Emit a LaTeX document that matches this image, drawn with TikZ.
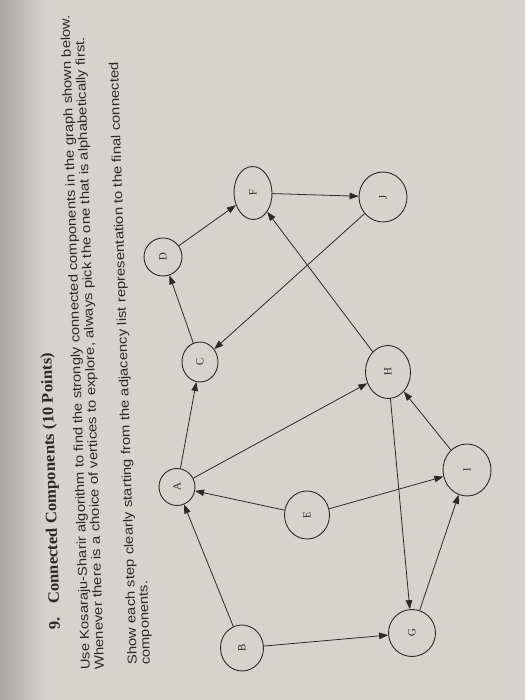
\documentclass[tikz,border=0pt]{standalone}
\usepackage{graphicx}
\usepackage{fontspec}
\setmainfont{Liberation Serif}
\setsansfont{Liberation Sans}
\usetikzlibrary{shapes.geometric,arrows.meta}
\definecolor{paper}{RGB}{214,211,207}
\definecolor{shadowgray}{RGB}{168,166,165}
\definecolor{ink}{RGB}{42,42,42}
\newcommand{\fitline}[2]{\resizebox{#1}{\height}{#2}}
\tikzset{
  txt/.style={inner sep=0pt, rotate=91.8, anchor=base west, text=ink},
  vtx/.style={ellipse, draw=ink, line width=0.9pt, inner sep=0pt, rotate=92,
    text=ink, font=\fontsize{11}{11}\selectfont},
  edge/.style={draw=ink, line width=0.8pt, -{Triangle[length=9pt,width=6.5pt]}}
}
\begin{document}
\begin{tikzpicture}[x=1pt,y=1pt]
\useasboundingbox (0,0) rectangle (525,700);
\fill[paper] (0,0) rectangle (525,700);
\shade[left color=shadowgray, right color=paper] (0,0) rectangle (45,700);

% text
\node[txt] (title) at (60,70) {\fitline{277pt}{\fontsize{16}{16}\selectfont\bfseries 9.\hspace{0.8em}Connected Components (10 Points)}};
\node[txt] (l1) at (90,30) {\fitline{655pt}{\fontsize{13}{13}\selectfont\sffamily Use Kosaraju-Sharir algorithm to find the strongly connected components in the graph shown below.}};
\node[txt] (l2) at (104,30) {\fitline{633pt}{\fontsize{13}{13}\selectfont\sffamily Whenever there is a choice of vertices to explore, always pick the one that is alphabetically first.}};
\node[txt] (l3) at (137,35) {\fitline{603pt}{\fontsize{13}{13}\selectfont\sffamily Show each step clearly starting from the adjacency list representation to the final connected}};
\node[txt] (l4) at (150,35) {\fontsize{13}{13}\selectfont\sffamily\scalebox{1.13}[1]{components.}};

% vertices
\node[vtx, minimum width=37pt, minimum height=36pt] (A) at (177,213) {A};
\node[vtx, minimum width=46pt, minimum height=43pt] (B) at (242,52) {B};
\node[vtx, minimum width=40pt, minimum height=36pt] (C) at (200,338) {C};
\node[vtx, minimum width=38pt, minimum height=38pt] (D) at (163,443) {D};
\node[vtx, minimum width=48pt, minimum height=45pt] (E) at (307,185) {E};
\node[vtx, minimum width=53pt, minimum height=38pt] (F) at (253,507) {F};
\node[vtx, minimum width=47pt, minimum height=47pt] (G) at (412,67) {G};
\node[vtx, minimum width=53pt, minimum height=45pt] (H) at (388,328) {H};
\node[vtx, minimum width=52pt, minimum height=48pt] (I) at (467,230) {I};
\node[vtx, minimum width=50pt, minimum height=48pt] (J) at (383,503) {J};

% edges
\draw[edge] (B) -- (A);
\draw[edge] (B) -- (G);
\draw[edge] (E) -- (A);
\draw[edge] (E) -- (I);
\draw[edge] (A) -- (C);
\draw[edge] (A) -- (H);
\draw[edge] (C) -- (D);
\draw[edge] (D) -- (F);
\draw[edge] (F) -- (J);
\draw[edge] (J) -- (C);
\draw[edge] (H) -- (F);
\draw[edge] (H) -- (G);
\draw[edge] (G) -- (I);
\draw[edge] (I) -- (H);
\end{tikzpicture}
\end{document}
